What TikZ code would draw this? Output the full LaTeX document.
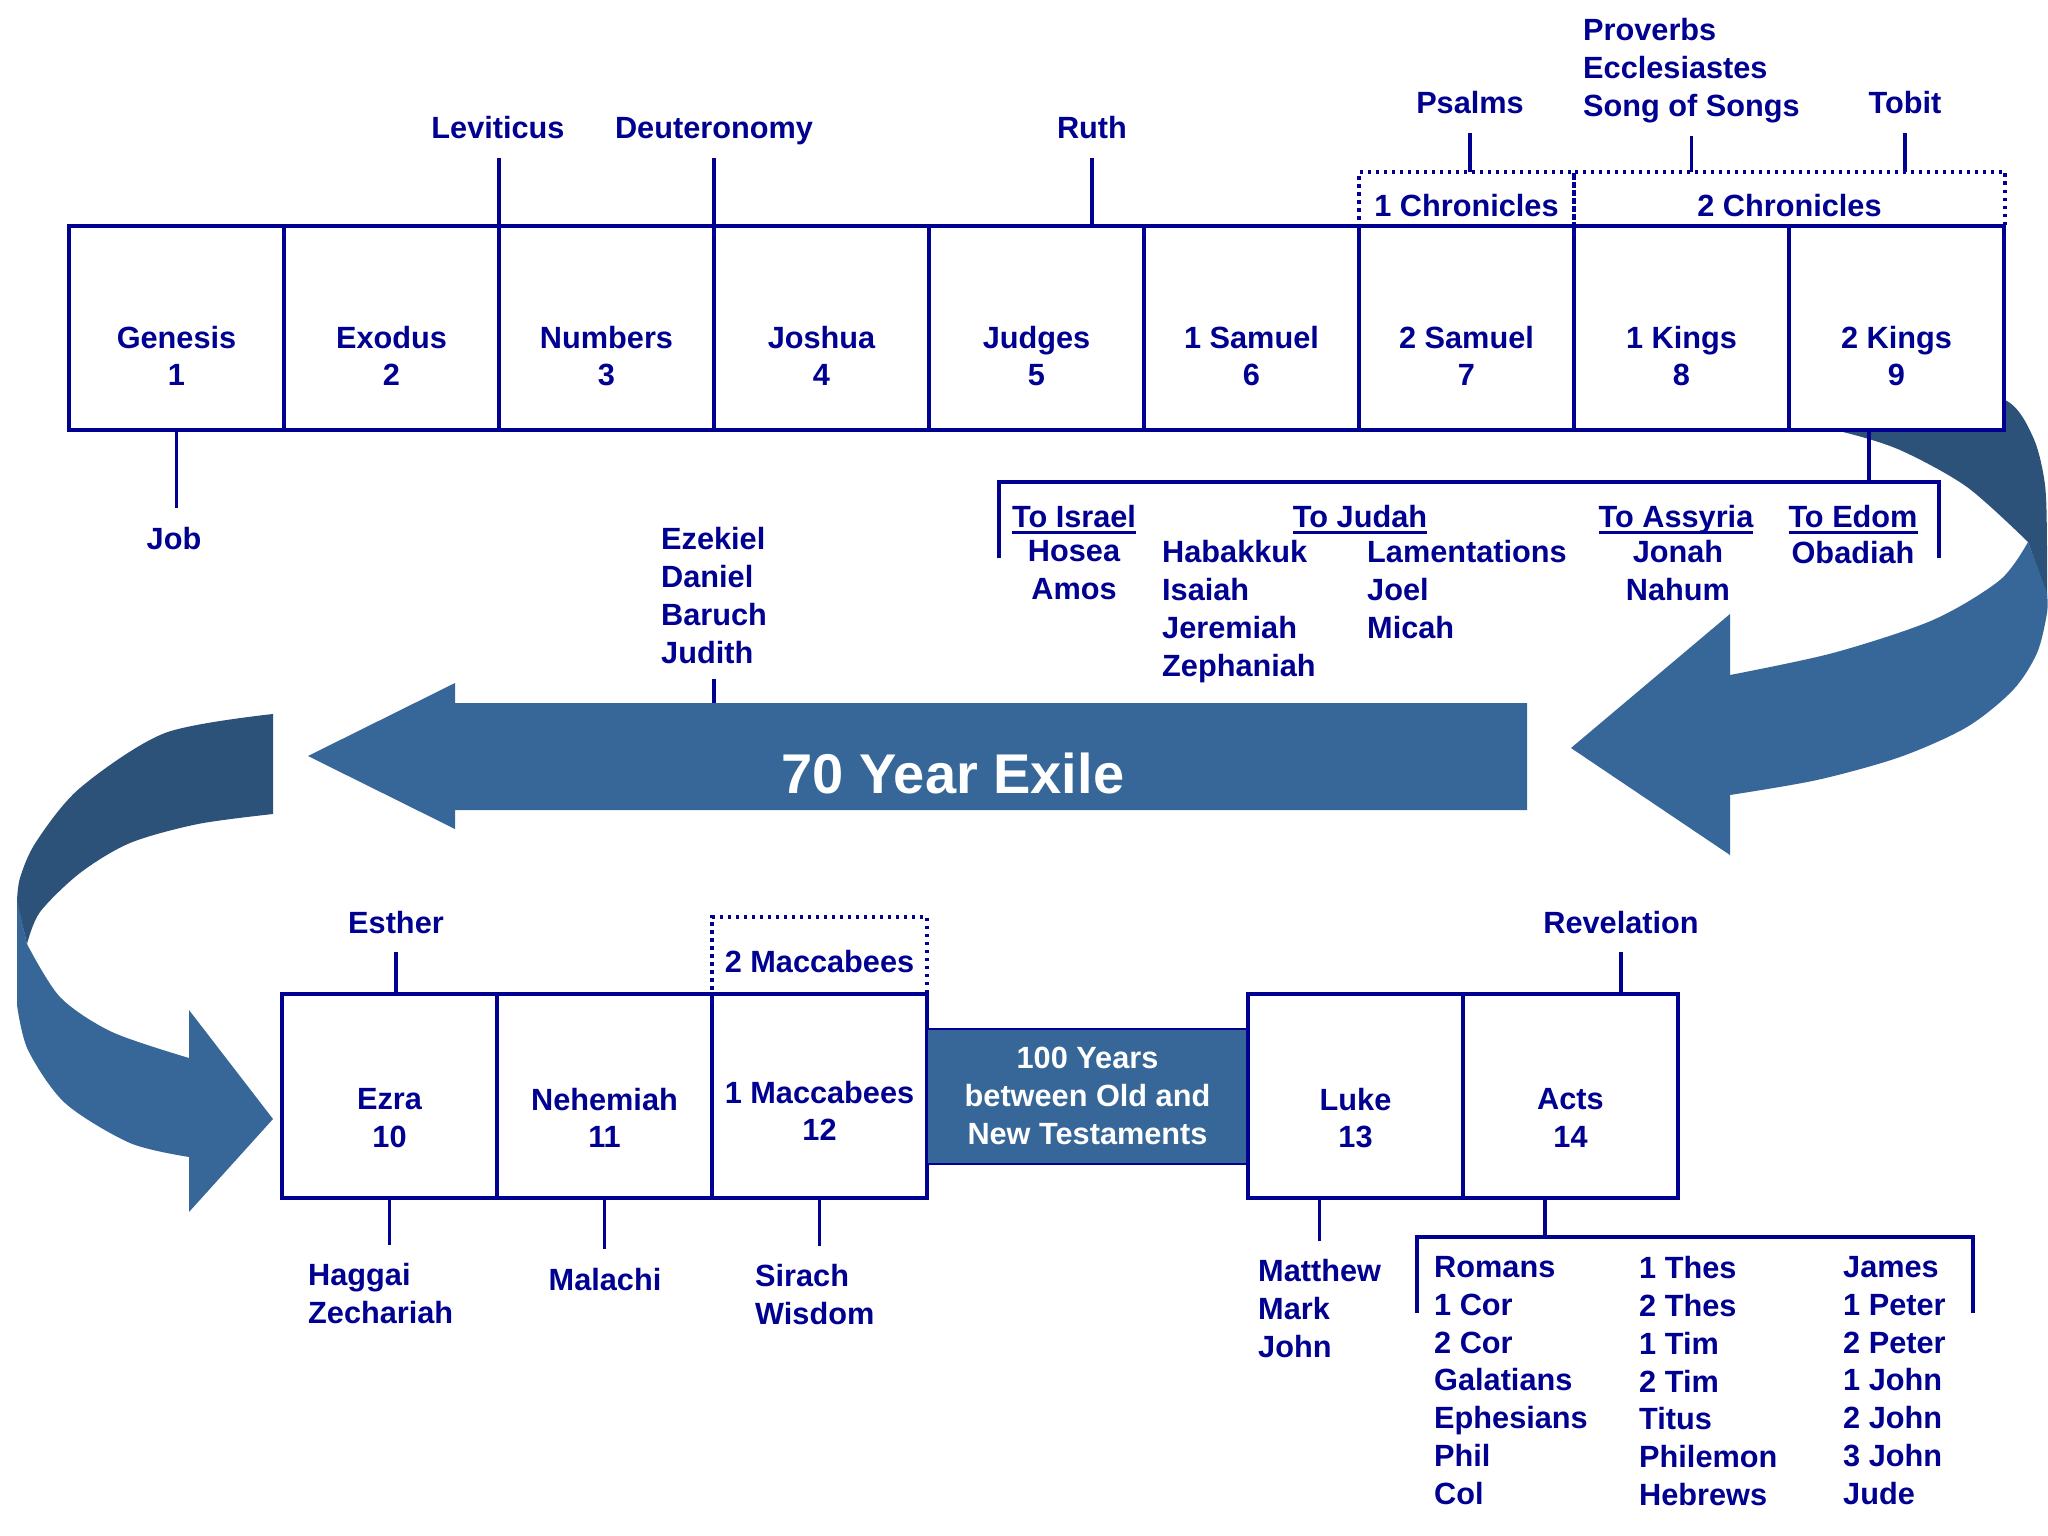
\documentclass[tikz,border=0pt]{standalone}
\usepackage{fontspec}
\setmainfont{Liberation Sans}
\usetikzlibrary{positioning}
\definecolor{navy}{RGB}{0,0,145}
\definecolor{exile}{RGB}{54,103,152}
\definecolor{exiledark}{RGB}{44,82,122}
\newcommand\bkfont{\fontsize{30.7}{37.7}\selectfont\bfseries}
\newsavebox\ulbox
\newcommand\ulbk[1]{\sbox\ulbox{#1}\rlap{\rule[-7pt]{\wd\ulbox}{3.5pt}}\usebox\ulbox}
\tikzset{
  bookbox/.style={draw=navy, line width=3.5pt, fill=white, minimum width=215pt, minimum height=204pt, inner sep=0pt, outer sep=0pt},
  booktext/.style={text=navy, font=\bkfont, align=center, inner sep=0pt},
  lbl/.style={text=navy, font=\bkfont, inner sep=0pt, text height=22pt, text depth=0pt},
  lst/.style={text=navy, font=\bkfont, inner sep=0pt, align=left},
  tick/.style={draw=navy, line width=3.5pt, shorten >=19pt},
  wire/.style={draw=navy, line width=3.5pt},
  dotbox/.style={draw=navy, line width=3.5pt, dash pattern=on 3.5pt off 4.5pt, inner sep=0pt, outer sep=0pt, text=navy, font=\bkfont, text height=34pt, text depth=0pt},
  gapbox/.style={draw=navy, line width=2pt, fill=exile, minimum width=321pt, minimum height=135pt, inner sep=0pt, outer sep=0pt, text=white, font=\bkfont, align=center}
}
\begin{document}
\begin{tikzpicture}[x=1pt, y=-1pt]
\fill[white] (0,0) rectangle (2048,1536);
\useasboundingbox (0,0) rectangle (2048,1536);
% ribbons
\fill[exiledark] plot[smooth] coordinates {(1800,415) (1930,388) (2005,400) (2033,437) (2045,485) (2047,547) (2047,595)} -- plot[smooth] coordinates {(2028,542) (1967,487) (1900,450) (1843,432) (1800,425)} -- cycle;
\fill[exile] plot[smooth] coordinates {(2047,593) (2047,613) (2037,653) (2013,690) (1967,727) (1900,757) (1817,780) (1730,795)} -- (1730,855) -- (1571,748) -- (1730,614) -- plot[smooth] coordinates {(1730,675) (1833,653) (1933,620) (2000,580) (2028,542)} -- cycle;
\fill[exiledark] plot[smooth] coordinates {(273,714) (165,733) (80,788) (36,842) (20,878) (17,902)} -- plot[smooth] coordinates {(27,944) (40,912) (80,873) (130,843) (198,824) (273,814)} -- cycle;
\fill[exile] (17,900) -- plot[smooth] coordinates {(17,1005) (28,1050) (65,1103) (130,1143) (189,1157)} -- (189,1212) -- (273,1119) -- (189,1010) -- plot[smooth] coordinates {(189,1058) (112,1032) (60,997) (27,944)} -- cycle;
\fill[exile] (1527,703) -- (455,703) -- (455,683) -- (308,756) -- (455,829) -- (455,810) -- (1527,810) -- cycle;
\node[text=white, font=\fontsize{56}{60}\selectfont\bfseries, inner sep=0pt, text height=40pt, text depth=0pt] (exile) at (953,773) {70 Year Exile};
\coordinate (exiletop) at (455,703);
% first row
\foreach \bk [count=\i] in {Genesis,Exodus,Numbers,Joshua,Judges,1 Samuel,2 Samuel,1 Kings,2 Kings}{
  \node[bookbox, anchor=north west] (b\i) at ({69+215*(\i-1)},226) {};
  \node[booktext] at ([yshift=-28pt]b\i.center) {\bk\\\i};
}
\node[dotbox, minimum width=215pt, minimum height=54pt, anchor=south west] (chr1) at (b7.north west) {1 Chronicles};
\node[dotbox, minimum width=431pt, minimum height=54pt, anchor=south west] (chr2) at (b8.north west) {2 Chronicles};
\node[lbl] (lev) at (498,128) {Leviticus};
\node[lbl] (deut) at (714,128) {Deuteronomy};
\node[lbl] (ruth) at (1092,128) {Ruth};
\node[lbl] (psa) at (1470,103) {Psalms};
\node[lst, anchor=north west] (prov) at (1583,18.5) {Proverbs\\Ecclesiastes\\Song of Songs};
\node[lbl] (tob) at (1905,103) {Tobit};
\draw[tick] (b2.north east) -- (b2.north east |- lev.south);
\draw[tick] (b3.north east) -- (b3.north east |- deut.south);
\draw[tick] (ruth.south |- b5.north) -- (ruth.south);
\draw[tick] (psa.south |- chr1.north) -- (psa.south);
\draw[tick, shorten >=12.5pt] (prov.south |- chr2.north) -- (prov.south);
\draw[tick] (tob.south |- chr2.north) -- (tob.south);
\node[lbl] (job) at (174,538) {Job};
\draw[tick] (b1.south) -- (b1.south |- job.north);
% prophets
\coordinate (brmid) at (1869,482);
\coordinate (brleft) at (999,558);
\coordinate (brright) at (1939,558);
\draw[wire] (brmid |- b9.south) -- (brmid);
\draw[wire] (brleft) |- (brmid) -| (brright);
\node[lbl] (isr) at (1074,516) {\ulbk{To Israel}};
\node[lbl] (jud) at (1360,516) {\ulbk{To Judah}};
\node[lbl] (assy) at (1676,516) {\ulbk{To Assyria}};
\node[lbl] (edom) at (1853,516) {\ulbk{To Edom}};
\node[lst, align=center, anchor=north] (isrl) at (1074,540.5) {Hosea\\Amos};
\node[lst, anchor=north west] (judl) at (1162,540.5) {Habakkuk\\Isaiah\\Jeremiah\\Zephaniah};
\node[lst, anchor=north west] (judr) at (1367,540.5) {Lamentations\\Joel\\Micah};
\node[lst, align=center, anchor=north] (assyl) at (1678,540.5) {Jonah\\Nahum};
\node[lbl] (edoml) at (1853,552) {Obadiah};
\node[lst, anchor=north west] (ezek) at (661,527.5) {Ezekiel\\Daniel\\Baruch\\Judith};
\draw[tick, shorten >=15pt] (ezek.south |- exiletop) -- (ezek.south);
% second row
\node[bookbox, anchor=north west] (b10) at (282,994) {};
\node[bookbox, right=0pt of b10] (b11) {};
\node[bookbox, right=0pt of b11] (b12) {};
\node[gapbox, right=0pt of b12] (gap) {100 Years\\between Old and\\New Testaments};
\node[bookbox, right=0pt of gap] (b13) {};
\node[bookbox, right=0pt of b13] (b14) {};
\node[booktext] at ([yshift=-22pt]b10.center) {Ezra\\10};
\node[booktext] at ([yshift=-22pt]b11.center) {Nehemiah\\11};
\node[booktext] at ([yshift=-15pt]b12.center) {1 Maccabees\\12};
\node[booktext] at ([yshift=-22pt]b13.center) {Luke\\13};
\node[booktext] at ([yshift=-22pt]b14.center) {Acts\\14};
\node[dotbox, minimum width=215pt, minimum height=77pt, anchor=south west, text height=33pt] (mac2) at (b12.north west) {2 Maccabees};
\node[lbl] (esth) at (396,922) {Esther};
\node[lbl] (rev) at (1621,922) {Revelation};
\draw[tick] (esth.south |- b10.north) -- (esth.south);
\draw[tick] (rev.south |- b14.north) -- (rev.south);
\node[lst, anchor=north west] (hag) at (308,1263.5) {Haggai\\Zechariah};
\node[lbl] (mal) at (605,1279) {Malachi};
\node[lst, anchor=north west] (sir) at (755,1264.5) {Sirach\\Wisdom};
\node[lst, anchor=north west] (mat) at (1258,1259.5) {Matthew\\Mark\\John};
\draw[tick] (b10.south) -- (b10.south |- hag.north);
\draw[tick] (b11.south) -- (b11.south |- mal.north);
\draw[tick] (b12.south) -- (b12.south |- sir.north);
\draw[tick] (mat.north |- b13.south) -- (mat.north);
% letters
\coordinate (ntmid) at (1545,1237);
\coordinate (ntleft) at (1417,1313);
\coordinate (ntright) at (1973,1313);
\draw[wire] (ntmid |- b14.south) -- (ntmid);
\draw[wire] (ntleft) |- (ntmid) -| (ntright);
\node[lst, anchor=north west] (paul) at (1434,1256.5) {Romans\\1 Cor\\2 Cor\\Galatians\\Ephesians\\Phil\\Col};
\node[lst, anchor=north west] (pastor) at (1639,1256.5) {1 Thes\\2 Thes\\1 Tim\\2 Tim\\Titus\\Philemon\\Hebrews};
\node[lst, anchor=north west] (general) at (1843,1256.5) {James\\1 Peter\\2 Peter\\1 John\\2 John\\3 John\\Jude};
\end{tikzpicture}
\end{document}
